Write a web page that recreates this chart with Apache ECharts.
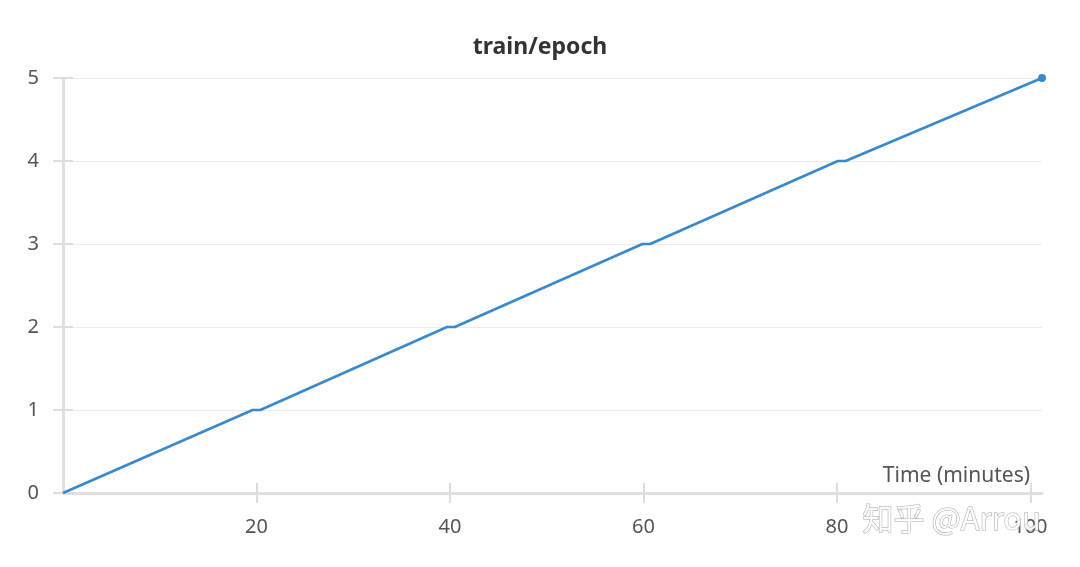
<!DOCTYPE html>
<html>
<head>
<meta charset="utf-8">
<script src="https://cdn.jsdelivr.net/npm/echarts@6/dist/echarts.min.js"></script>
<style>html,body{margin:0;padding:0;background:#fff;}#c{width:1080px;height:567px;}</style>
</head>
<body>
<div id="c"></div>
<script>
// Data
const timeMinutes = [0, 19.6, 20.4, 39.7, 40.5, 59.9, 60.7, 80.1, 80.9, 101.2];
const epochValues = [0, 1, 1, 2, 2, 3, 3, 4, 4, 5];
const xTicks = [20, 40, 60, 80, 100];
const yTicks = [0, 1, 2, 3, 4, 5];

const points = timeMinutes.map((t, i) => [t, epochValues[i]]);
const lastIdx = points.length - 1;

const chart = echarts.init(document.getElementById('c'));
const labelStyle = {color: '#555', fontSize: 20, fontFamily: 'Noto Sans'};
chart.setOption({
  animation: false,
  title: {text: 'train/epoch', left: 'center', top: 31,
    textStyle: {fontFamily: 'Noto Sans', fontSize: 23, fontWeight: 'bold', color: '#333'}},
  grid: {left: 63, right: 38, top: 78, bottom: 74},
  xAxis: [{
    type: 'value', min: 0, max: 101.2,
    name: 'Time (minutes)', nameLocation: 'end', nameGap: 0,
    nameTextStyle: {color: '#555', fontSize: 21, fontFamily: 'Noto Sans', align: 'right', verticalAlign: 'bottom', padding: [0, 12, 6, 0]},
    axisLine: {show: true, lineStyle: {color: '#e0e0e0', width: 3}},
    axisTick: {show: true, length: 10, customValues: xTicks, lineStyle: {color: '#ddd', width: 2}},
    axisLabel: Object.assign({margin: 24, customValues: xTicks}, labelStyle),
    splitLine: {show: false}
  }, {
    type: 'value', min: 0, max: 101.2, position: 'bottom',
    axisLine: {show: false},
    axisTick: {show: true, inside: true, length: 10, customValues: xTicks, lineStyle: {color: '#ddd', width: 2}},
    axisLabel: {show: false}, splitLine: {show: false}
  }],
  yAxis: [{
    type: 'value', min: 0, max: 5, interval: 1,
    axisLine: {show: true, lineStyle: {color: '#e0e0e0', width: 3}},
    axisTick: {show: true, length: 10, lineStyle: {color: '#ddd', width: 2}},
    axisLabel: Object.assign({margin: 24, formatter: v => yTicks.indexOf(v) >= 0 ? String(v) : ''}, labelStyle),
    splitLine: {show: true, lineStyle: {color: '#ececec', width: 1}}
  }, {
    type: 'value', min: 0, max: 5, interval: 1, position: 'left',
    axisLine: {show: false},
    axisTick: {show: true, inside: true, length: 10, lineStyle: {color: '#ddd', width: 2}},
    axisLabel: {show: false}, splitLine: {show: false}
  }],
  series: [{
    type: 'line', xAxisIndex: 0, yAxisIndex: 0, data: points,
    showSymbol: true,
    symbol: (v, p) => p.dataIndex === lastIdx ? 'circle' : 'none',
    symbolSize: 8,
    lineStyle: {color: '#3a89cb', width: 2.6},
    itemStyle: {color: '#3a89cb'}
  }],
  graphic: [{
    type: 'text', left: 862, top: 502, silent: true, z: 100,
    style: {text: '知乎 @Arrou', fontSize: 31, fontFamily: 'Noto Sans CJK SC',
      fill: 'rgba(255,255,255,0.9)', stroke: '#a8a8a8', lineWidth: 1}
  }]
});
</script>
</body>
</html>
